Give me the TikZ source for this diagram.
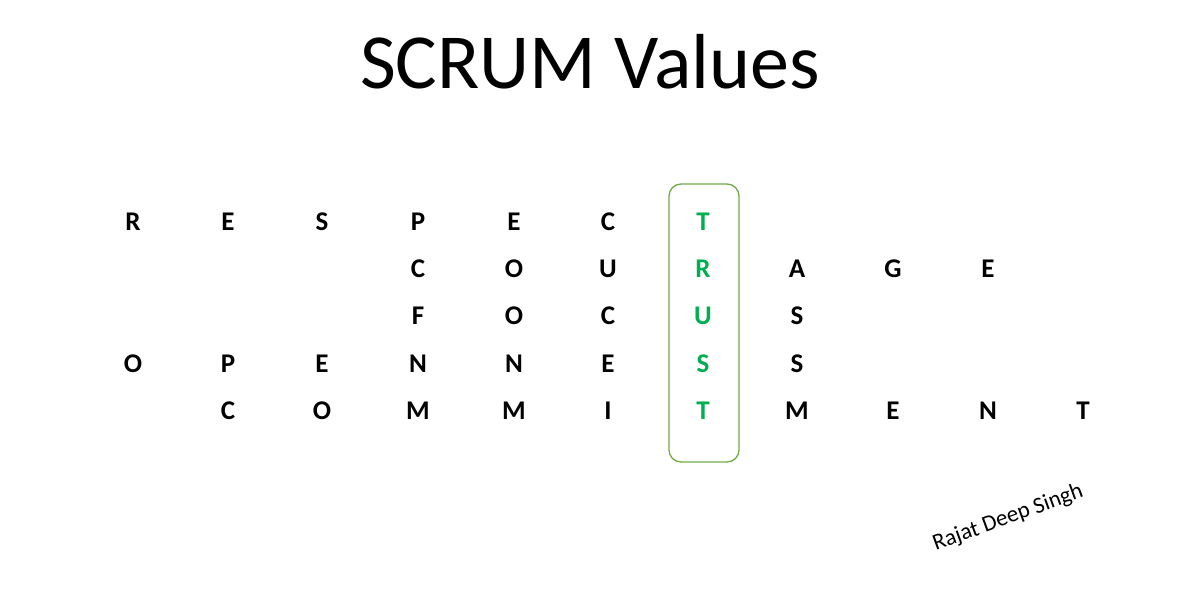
\documentclass[tikz,border=0pt]{standalone}
\usepackage{fontspec}
\setmainfont{Carlito}
\definecolor{trustgreen}{HTML}{00B050}
\definecolor{boxgreen}{HTML}{70AD47}
\tikzset{
  letter/.style={inner sep=0pt, font=\bfseries\fontsize{27}{32}\selectfont},
  trust/.style={letter, text=trustgreen},
  trustbox/.style={draw=boxgreen, line width=1.3pt, rounded corners=12pt,
    minimum width=70pt, minimum height=278pt, inner sep=0pt}
}
\begin{document}
\begin{tikzpicture}[x=1pt, y=-1pt]
  \useasboundingbox[fill=white] (0,0) rectangle (1200,602);
  \node[font=\fontsize{78}{84}\selectfont] (title) at (590,62) {SCRUM Values};
  \node[trustbox] (box) at (704,323) {};
  % respect
  \node[letter] (a0) at (133,222) {R};
  \node[letter] (a1) at (228,222) {E};
  \node[letter] (a2) at (322,222) {S};
  \node[letter] (a3) at (418,222) {P};
  \node[letter] (a4) at (514,222) {E};
  \node[letter] (a5) at (608,222) {C};
  \node[trust] (a6) at (703,222) {T};
  % courage
  \node[letter] (b3) at (418,269) {C};
  \node[letter] (b4) at (514,269) {O};
  \node[letter] (b5) at (608,269) {U};
  \node[trust] (b6) at (703,269) {R};
  \node[letter] (b7) at (797,269) {A};
  \node[letter] (b8) at (893,269) {G};
  \node[letter] (b9) at (988,269) {E};
  % focus
  \node[letter] (c3) at (418,316) {F};
  \node[letter] (c4) at (514,316) {O};
  \node[letter] (c5) at (608,316) {C};
  \node[trust] (c6) at (703,316) {U};
  \node[letter] (c7) at (797,316) {S};
  % openness
  \node[letter] (d0) at (133,364) {O};
  \node[letter] (d1) at (228,364) {P};
  \node[letter] (d2) at (322,364) {E};
  \node[letter] (d3) at (418,364) {N};
  \node[letter] (d4) at (514,364) {N};
  \node[letter] (d5) at (608,364) {E};
  \node[trust] (d6) at (703,364) {S};
  \node[letter] (d7) at (797,364) {S};
  % commitment
  \node[letter] (e1) at (228,411) {C};
  \node[letter] (e2) at (322,411) {O};
  \node[letter] (e3) at (418,411) {M};
  \node[letter] (e4) at (514,411) {M};
  \node[letter] (e5) at (608,411) {I};
  \node[trust] (e6) at (703,411) {T};
  \node[letter] (e7) at (797,411) {M};
  \node[letter] (e8) at (893,411) {E};
  \node[letter] (e9) at (988,411) {N};
  \node[letter] (e10) at (1083,411) {T};
  \node[rotate=20, font=\fontsize{23}{27}\selectfont] (author) at (1008,518) {Rajat Deep Singh};
\end{tikzpicture}
\end{document}
